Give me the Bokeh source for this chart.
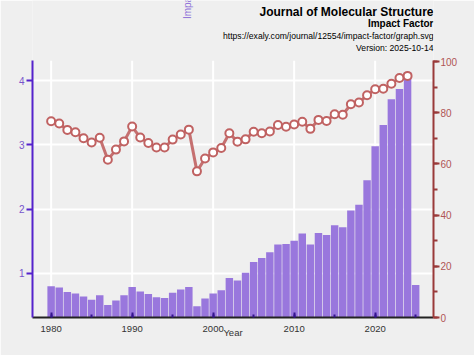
import math
from bokeh.plotting import figure
from bokeh.models import (Range1d, LinearAxis, SingleIntervalTicker, FixedTicker, Label)
from bokeh.embed import file_html
from bokeh.resources import INLINE

# ---- data ----
years = list(range(1980, 2026))
impact_factor = [0.80, 0.78, 0.71, 0.69, 0.64, 0.59, 0.66, 0.51, 0.58, 0.66,
                 0.79, 0.72, 0.68, 0.63, 0.62, 0.70, 0.75, 0.79, 0.49, 0.61,
                 0.69, 0.74, 0.93, 0.89, 1.01, 1.18, 1.24, 1.33, 1.45, 1.46,
                 1.51, 1.62, 1.45, 1.63, 1.60, 1.75, 1.72, 1.98, 2.07, 2.45,
                 2.98, 3.31, 3.71, 3.87, 4.13, 0.82]
pct_years = list(range(1980, 2025))
percentile = [76.7, 75.8, 73.3, 72.4, 70.0, 68.4, 70.2, 61.6, 65.6, 68.8,
              74.6, 70.3, 68.2, 66.4, 66.4, 69.5, 71.5, 73.4, 57.1, 62.1,
              64.5, 66.2, 72.0, 68.7, 69.6, 72.6, 72.0, 72.7, 75.2, 74.5,
              75.4, 76.5, 73.7, 77.2, 76.8, 79.4, 79.2, 83.3, 84.0, 86.8,
              89.2, 89.4, 91.3, 93.6, 94.4]
left_ticks = [1, 2, 3, 4]
x_grid_years = [1980, 1990, 2000, 2010, 2020]
title_lines = ["Journal of Molecular Structure", "Impact Factor",
               "https://exaly.com/journal/12554/impact-factor/graph.svg",
               "Version: 2025-10-14"]

BG = "#efefef"
FONT = "Liberation Sans"

# visible axis extents
L_LO, L_HI = 0.315, 4.31
R_LO, R_HI = 0.0, 100.4

p = figure(width=474, height=355, output_backend="svg", toolbar_location=None,
           x_range=Range1d(1977.7, 2027.2), y_range=Range1d(L_LO, 5.2455),
           min_border_left=32, min_border_right=41, min_border_top=0,
           min_border_bottom=38)
p.background_fill_color = BG
p.border_fill_color = BG
p.outline_line_color = None
p.extra_y_ranges = {"right": Range1d(R_LO, 123.85)}

# vertical grid lines limited to the axis extent
p.segment(x0=x_grid_years, y0=[L_LO] * len(x_grid_years), x1=x_grid_years,
          y1=[L_HI] * len(x_grid_years), line_color="white", line_width=2)

# bars
p.vbar(x=years, top=impact_factor, bottom=0, width=0.92,
       fill_color="#9370DB", line_color=None, fill_alpha=0.95)

# line
p.line(pct_years, percentile, y_range_name="right", line_color="#c06262",
       line_width=3, line_alpha=0.9)
p.scatter(pct_years, percentile, y_range_name="right", size=8,
          fill_color="white", line_color="#c06262", line_width=2)

# x axis
xa = p.xaxis[0]
xa.ticker = SingleIntervalTicker(interval=10, num_minor_ticks=2)
xa.axis_line_color = "#222222"
xa.axis_line_width = 2
xa.major_tick_in = 5
xa.major_tick_out = 0
xa.minor_tick_in = 3
xa.minor_tick_out = 0
xa.major_tick_line_color = "#35158f"
xa.major_tick_line_width = 2
xa.minor_tick_line_color = "#35158f"
xa.minor_tick_line_width = 2
xa.major_label_standoff = 8
xa.major_label_text_font = FONT
xa.major_label_text_font_size = "9.5px"
xa.major_label_text_color = "#333333"
xa.axis_label = "Year"
xa.axis_label_text_font = FONT
xa.axis_label_text_font_size = "9.5px"
xa.axis_label_text_font_style = "normal"
xa.axis_label_text_color = "#333333"
xa.axis_label_standoff = -8

# left axis
ya = p.yaxis[0]
ya.bounds = (L_LO, L_HI)
ya.ticker = FixedTicker(ticks=left_ticks)
ya.axis_line_color = "#5522cc"
ya.axis_line_width = 2
ya.major_tick_out = 6
ya.major_tick_in = 0
ya.major_tick_line_color = "#5522cc"
ya.major_tick_line_width = 2
ya.minor_tick_line_color = None
ya.major_label_standoff = 2
ya.major_label_text_font = FONT
ya.major_label_text_font_size = "10px"
ya.major_label_text_color = "#7755cc"

# right axis
ra = LinearAxis(y_range_name="right", bounds=(R_LO, R_HI),
                ticker=SingleIntervalTicker(interval=20, num_minor_ticks=2))
ra.axis_line_color = "#9a3a3a"
ra.axis_line_width = 2
ra.major_tick_out = 6
ra.major_tick_in = 0
ra.minor_tick_out = 4
ra.minor_tick_in = 0
ra.major_tick_line_color = "#9a3a3a"
ra.major_tick_line_width = 2
ra.minor_tick_line_color = "#9a3a3a"
ra.minor_tick_line_width = 2
ra.major_label_standoff = 1
ra.major_label_text_font = FONT
ra.major_label_text_font_size = "10px"
ra.major_label_text_color = "#b05555"
p.add_layout(ra, "right")

# grids
p.xgrid.visible = False
p.ygrid.ticker = FixedTicker(ticks=left_ticks)
p.ygrid.grid_line_color = "white"
p.ygrid.grid_line_width = 2

# titles (screen units, frame-relative)
specs = [(title_lines[0], "12px", "bold", 305.4),
         (title_lines[1], "10px", "bold", 293.7),
         (title_lines[2], "8.6px", "normal", 281.2),
         (title_lines[3], "8.6px", "normal", 269.7)]
for txt, sz, st, yy in specs:
    p.add_layout(Label(x=401, y=yy, x_units="screen", y_units="screen", text=txt,
                       text_align="right", text_baseline="alphabetic",
                       text_font=FONT, text_font_size=sz, text_font_style=st,
                       text_color="black"))

p.add_layout(Label(x=155, y=298.4, x_units="screen", y_units="screen",
                   text="Impact Factor", angle=math.pi / 2, text_align="left",
                   text_baseline="alphabetic", text_font=FONT,
                   text_font_size="10px", text_color="#8e6fd8"))

html = file_html(p, INLINE)
html = html.replace("<body>", '<body style="margin:0;background-color:#efefef;">', 1)
open("out.html", "w").write(html)
